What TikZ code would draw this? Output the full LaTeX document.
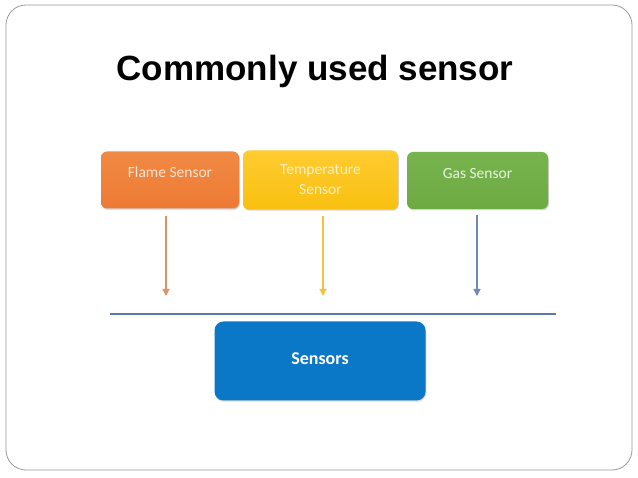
\documentclass[tikz,border=0pt]{standalone}
\usepackage{fontspec}
\setmainfont{Liberation Sans}
\newfontfamily\calib{Carlito}
\usetikzlibrary{arrows.meta,shadows}
\definecolor{flameC}{HTML}{EE7A34}
\definecolor{flameT}{HTML}{F08A44}
\definecolor{tempC}{HTML}{F8C010}
\definecolor{tempT}{HTML}{FFCC30}
\definecolor{gasC}{HTML}{6CAA42}
\definecolor{gasT}{HTML}{78B44E}
\definecolor{sensC}{HTML}{0A78C6}
\definecolor{arrO}{HTML}{D8946A}
\definecolor{arrY}{HTML}{F0C43A}
\definecolor{arrB}{HTML}{6F88B8}
\definecolor{lineB}{HTML}{5B77A8}
\definecolor{frameC}{HTML}{9A9A9A}
\tikzset{
  sbox/.style={rounded corners=6pt, minimum height=57pt, align=center,
    font=\calib\fontsize{15.5}{20}\selectfont, inner sep=2pt,
    drop shadow={shadow xshift=0.8pt, shadow yshift=-1.2pt, opacity=0.35, fill=gray}},
  conn/.style={line width=1.1pt, -{Triangle[length=7pt,width=7pt]}},
}
\begin{document}
\begin{tikzpicture}[x=1pt,y=-1pt]
\useasboundingbox (0,0) rectangle (638,478);
\fill[white] (0,0) rectangle (638,478);
\draw[frameC, line width=0.8pt, rounded corners=20pt] (6,5) rectangle (632,470);
\node[font=\bfseries\fontsize{35}{40}\selectfont] (title) at (315,71) {Commonly used sensor};

\node[sbox, top color=flameT, bottom color=flameC, text=white!80!flameC, minimum width=138pt] (flame) at (170,180) {\raisebox{16pt}{Flame Sensor}};
\node[sbox, top color=tempT, bottom color=tempC, text=white!75!tempC, minimum width=155pt, minimum height=59pt] (temp) at (320.5,180) {Temperature\\Sensor};
\node[sbox, top color=gasT, bottom color=gasC, text=white!85!gasC, minimum width=141pt] (gas) at (477.5,180.5) {\raisebox{15pt}{Gas Sensor}};

\coordinate (fa) at (166,296);
\coordinate (ta) at (323,296);
\coordinate (ga) at (477,296);
\draw[conn, arrO] (flame.south -| fa) ++(0,7) -- (fa);
\draw[conn, arrY] (temp.south -| ta) ++(0,6) -- (ta);
\draw[conn, arrB] (gas.south -| ga) ++(0,6) -- (ga);

\coordinate (l1) at (110,314);
\coordinate (l2) at (556,314);
\draw[lineB, line width=1.4pt] (l1) -- (l2);

\node[rounded corners=9pt, fill=sensC, minimum width=211pt, minimum height=79pt, text=white,
  font=\calib\bfseries\fontsize{18}{20}\selectfont,
  drop shadow={shadow xshift=0.8pt, shadow yshift=-1.2pt, opacity=0.3, fill=gray}] (sensors) at (320,361) {\raisebox{5pt}{Sensors}};
\end{tikzpicture}
\end{document}
